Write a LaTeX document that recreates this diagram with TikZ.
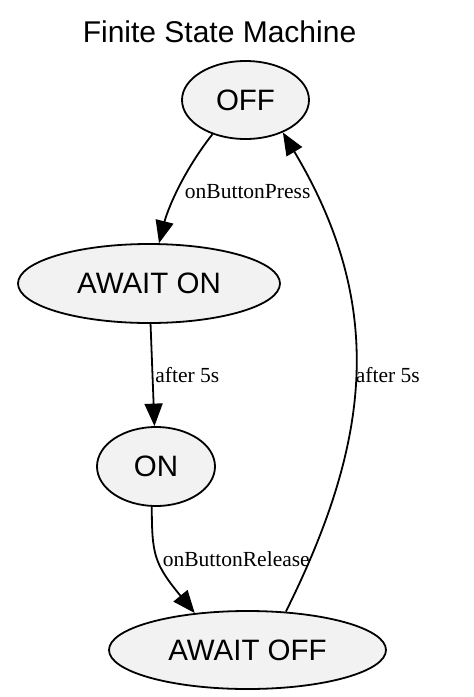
\documentclass[tikz,border=0pt]{standalone}
\usepackage{fontspec}
\setmainfont{Liberation Serif}
\newfontfamily\arialfont{Liberation Sans}
\usepackage{xcolor}
\definecolor{stateFill}{RGB}{242,242,242}
\usetikzlibrary{shapes.geometric,arrows.meta}
\tikzset{
  fsmstate/.style={ellipse, draw=black, line width=1.8pt, fill=stateFill,
                   inner sep=0pt, font=\arialfont\fontsize{29.5}{34}\selectfont},
  trans/.style={-{Triangle[length=22.5pt,width=18pt]}, line width=1.8pt},
  elabel/.style={anchor=west, inner sep=0pt, font=\fontsize{21.5}{25}\selectfont},
}
\begin{document}
\begin{tikzpicture}[x=1pt, y=-1pt]
  \useasboundingbox (0,0) rectangle (474,697);
  % Title
  \node[font=\arialfont\fontsize{30}{36}\selectfont] (title) at (219.5,32) {Finite State Machine};
  % States
  \node[fsmstate, minimum width=127pt, minimum height=78pt] (off) at (245.5,100) {OFF};
  \node[fsmstate, minimum width=262pt, minimum height=79pt] (awaiton) at (149,283.5) {AWAIT ON};
  \node[fsmstate, minimum width=118pt, minimum height=79pt] (on) at (156,466.5) {ON};
  \node[fsmstate, minimum width=277pt, minimum height=78pt] (awaitoff) at (247.5,650) {AWAIT OFF};
  % Transitions
  \draw[trans] (off.226) .. controls (181.3,173.9) and (167,211.8) .. (awaiton.76)
    node[elabel, pos=0.5, xshift=7pt] (lpress) {onButtonPress};
  \draw[trans] (awaiton) -- node[elabel, xshift=2pt] (lwait1) {after 5s} (on);
  \draw[trans] (on.264) .. controls (152,554) and (153.7,563.3) .. (awaitoff.145)
    node[elabel, pos=0.5, xshift=4pt] (lrelease) {onButtonRelease};
  \draw[trans] (awaitoff.45) .. controls (369,444.5) and (388,308.5) .. (off.-41)
    node[elabel, pos=0.5] (lwait2) {after 5s};
\end{tikzpicture}
\end{document}
